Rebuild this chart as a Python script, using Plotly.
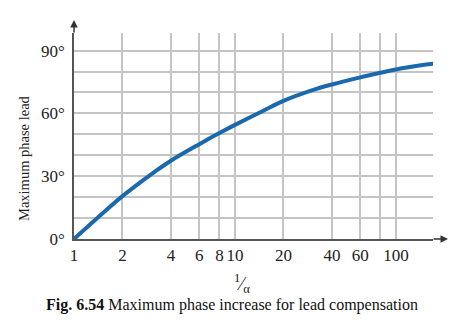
import plotly.graph_objects as go

# data
inv_alpha = [1, 1.5, 2, 3, 4, 6, 8, 10, 15, 20, 30, 40, 60, 80, 100, 150, 172]
phase_lead = [0, 12.2, 20.5, 30.8, 37.4, 45.3, 50.6, 54.5, 61.3, 66.0, 71.0, 73.8, 77.2, 79.4, 81.0, 83.2, 83.8]

x_grid = [1, 2, 4, 6, 8, 10, 20, 40, 60, 80, 100]
x_labels = ["1", "2", "4", "6", "8", "10", "20", "40", "60", "", "100"]
y_grid = [0, 10, 20, 30, 40, 50, 60, 70, 80, 90]
y_labels = ["0°", "", "", "30°", "", "", "60°", "", "", "90°"]

serif = "Liberation Serif, Times New Roman, serif"
W, H = 474, 334
L, R, T, B = 74, 41, 33, 95
pw = W - L - R
ph = H - T - B


def px(xp):
    return (xp - L) / pw


def py(yp):
    return (H - B - yp) / ph


fig = go.Figure()
fig.add_trace(go.Scatter(
    x=inv_alpha, y=phase_lead, mode="lines",
    line=dict(color="#1a69ac", width=4, shape="spline"),
    showlegend=False, hoverinfo="skip",
))

fig.update_layout(
    width=W, height=H,
    margin=dict(l=L, r=R, t=T, b=B),
    paper_bgcolor="white", plot_bgcolor="white",
    font=dict(family=serif, size=17, color="#222"),
    xaxis=dict(
        type="log", range=[0, 2.23],
        tickvals=x_grid, ticktext=x_labels,
        showgrid=True, gridcolor="#c4c4c4", gridwidth=1.5,
        showline=True, linecolor="#555", linewidth=1.5,
        ticks="", zeroline=False,
        tickfont=dict(family=serif, size=17, color="#222"),
    ),
    yaxis=dict(
        range=[0, 98.4],
        tickvals=y_grid, ticktext=y_labels,
        showgrid=True, gridcolor="#c4c4c4", gridwidth=1.5,
        showline=True, linecolor="#555", linewidth=1.5,
        ticks="", zeroline=False, ticklabelstandoff=4,
        tickfont=dict(family=serif, size=17, color="#222"),
    ),
)

# axis arrows
fig.add_annotation(
    xref="paper", yref="paper", x=0, y=1 + 13 / ph, ax=0, ay=14,
    showarrow=True, arrowhead=2, arrowsize=1, arrowwidth=1.5, arrowcolor="#333", text="",
)
fig.add_annotation(
    xref="paper", yref="paper", x=1 + 15 / pw, y=0, ax=-16, ay=0,
    showarrow=True, arrowhead=2, arrowsize=1, arrowwidth=1.5, arrowcolor="#333", text="",
)

# axis titles
fig.add_annotation(
    xref="paper", yref="paper", x=px(24), y=py(158),
    xanchor="center", yanchor="middle",
    text="Maximum phase lead", textangle=-90, showarrow=False,
    font=dict(family=serif, size=14.5, color="#222"),
)
fig.add_annotation(
    xref="paper", yref="paper", x=px(242), y=py(283),
    xanchor="center", yanchor="middle",
    text="<sup>1</sup>⁄<sub>α</sub>", showarrow=False,
    font=dict(family=serif, size=18, color="#222"),
)
# caption
fig.add_annotation(
    xref="paper", yref="paper", x=px(232), y=py(305),
    xanchor="center", yanchor="middle",
    text="<b>Fig. 6.54</b> Maximum phase increase for lead compensation", showarrow=False,
    font=dict(family=serif, size=16, color="#111"),
)

fig.write_html("out.html")
